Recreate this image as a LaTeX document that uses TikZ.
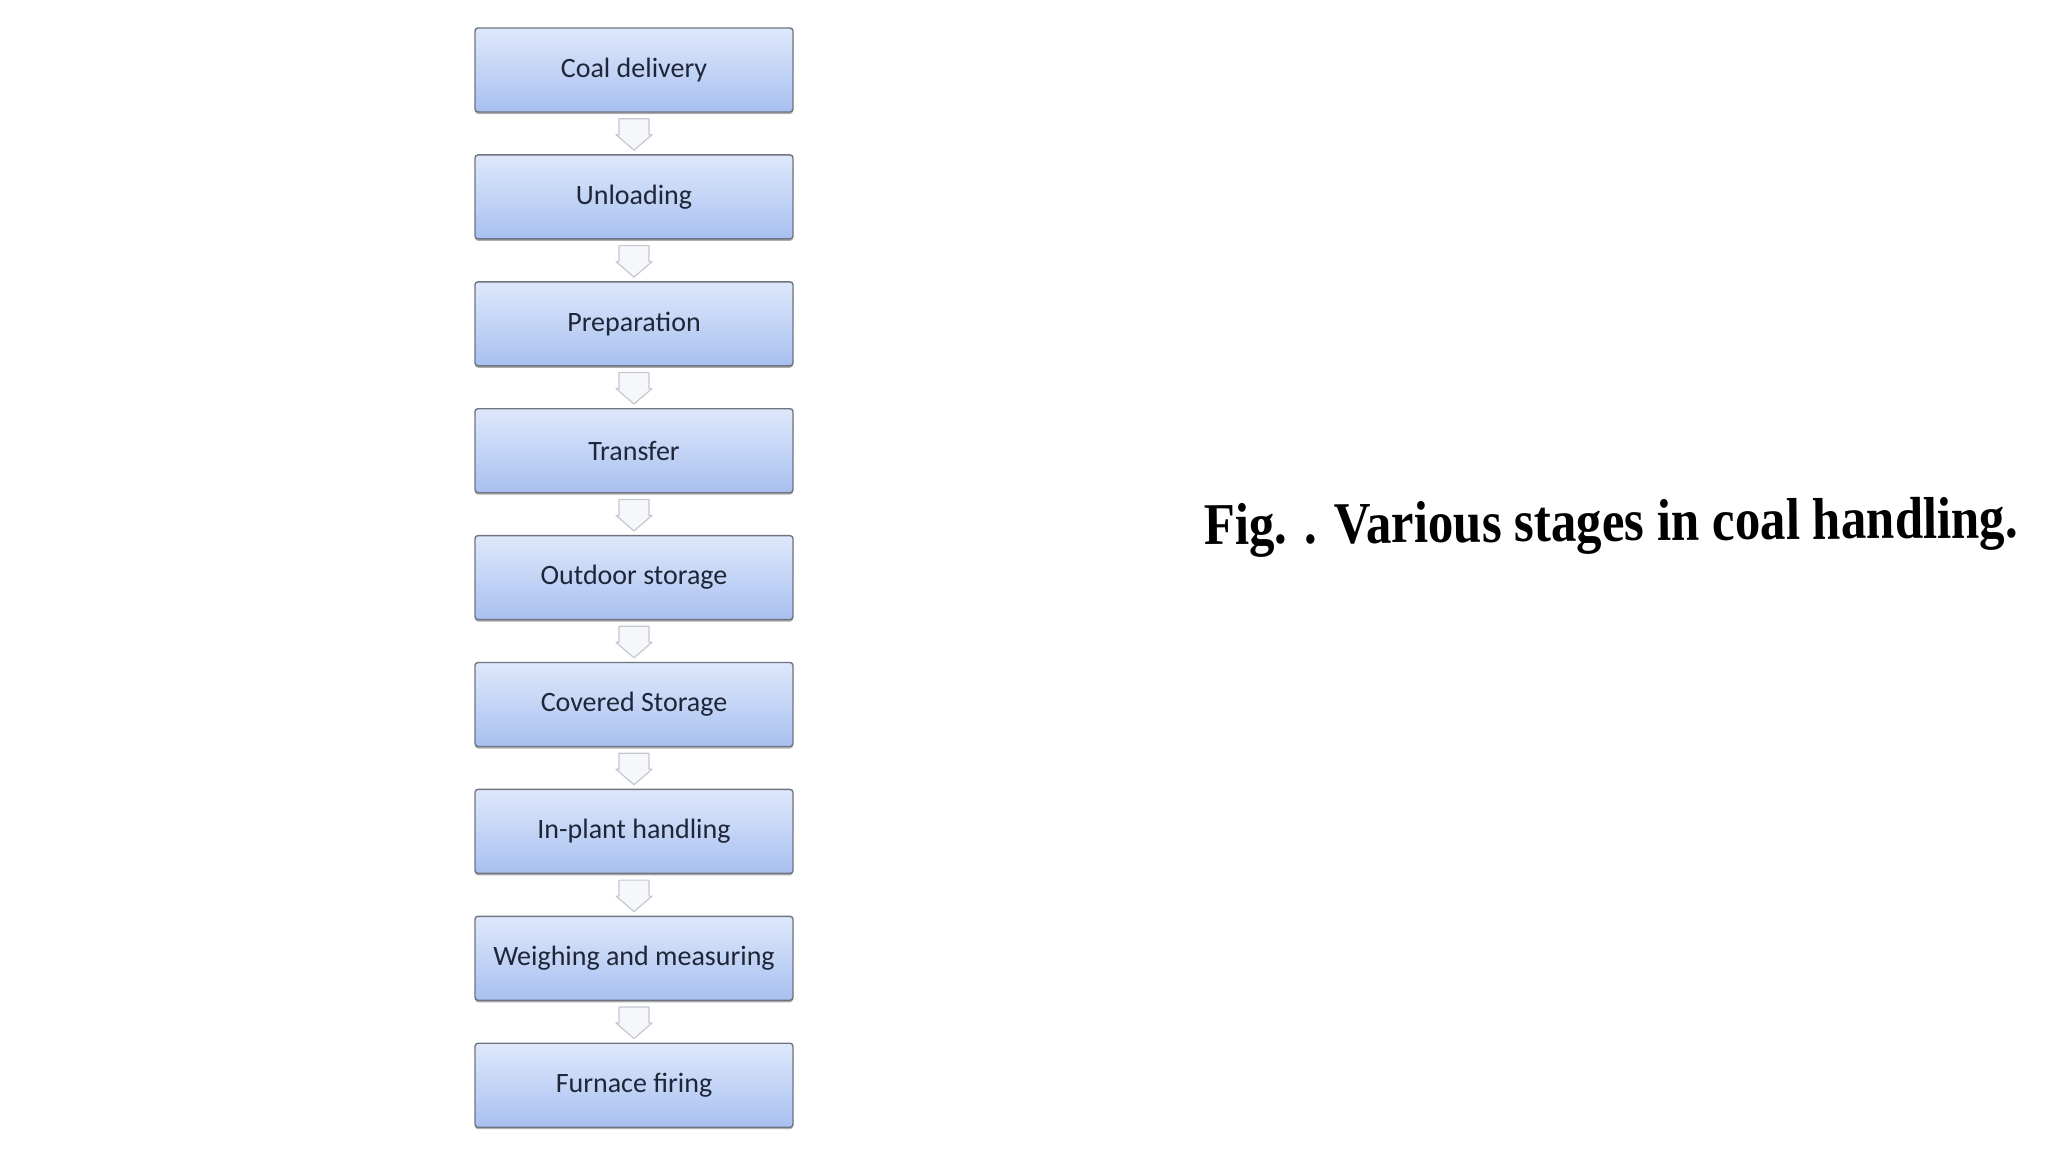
\documentclass[tikz,border=0pt]{standalone}
\usepackage{fontspec}
\setmainfont{Carlito}
\newfontfamily\capfont{Liberation Serif}
\usetikzlibrary{shadows,calc}
\definecolor{boxtop}{RGB}{222,232,251}
\definecolor{boxbot}{RGB}{168,192,240}
\definecolor{boxline}{RGB}{110,116,128}
\definecolor{boxtext}{RGB}{30,38,56}
\definecolor{arrfill}{RGB}{246,247,250}
\definecolor{arrline}{RGB}{196,200,208}
\tikzset{
  stagebox/.style={rectangle, rounded corners=1.5pt, minimum width=159pt, minimum height=42pt,
    top color=boxtop, bottom color=boxbot, draw=boxline, line width=0.7pt,
    text=boxtext, font=\fontsize{14}{16}\selectfont,
    drop shadow={shadow xshift=0pt, shadow yshift=-1pt, opacity=0.45, fill=black!70}},
  flowarrow/.style={fill=arrfill, draw=arrline, line width=0.6pt, line join=round}
}
\begin{document}
\begin{tikzpicture}[x=0.5pt,y=-0.5pt]
\useasboundingbox[fill=white] (0,0) rectangle (2048,1152);
\foreach \t [count=\i from 0] in {Coal delivery,Unloading,Preparation,Transfer,Outdoor storage,Covered Storage,In-plant handling,Weighing and measuring,Furnace firing}{
  \node[stagebox] (b\i) at (634,{70+126.9*\i}) {\t};
}
\foreach \i [evaluate=\i as \j using int(\i+1)] in {0,...,7}{
  \draw[flowarrow] ($(b\i.south)+(-15,6)$) -- ($(b\i.south)+(15,6)$) -- ($(b\i.south)+(15,22)$)
     -- ($(b\i.south)+(18,22)$) -- ($(b\j.north)+(0,-4)$) -- ($(b\i.south)+(-18,22)$)
     -- ($(b\i.south)+(-15,22)$) -- cycle;
}
\node[anchor=center, rotate=0.5] (cap) at (1611,527)
  {\resizebox{407pt}{20.5pt}{\capfont\bfseries Fig. . Various stages in coal handling.}};
\end{tikzpicture}
\end{document}
